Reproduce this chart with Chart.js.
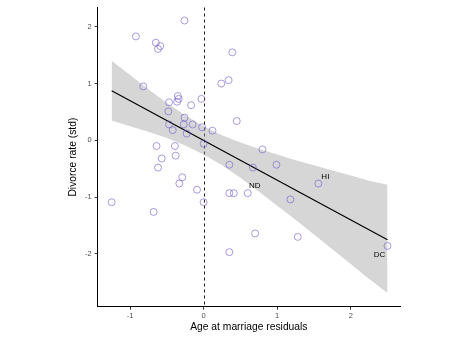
<!DOCTYPE html>
<html>
<head>
<meta charset="utf-8">
<title>Divorce rate vs age at marriage residuals</title>
<script src="https://cdn.jsdelivr.net/npm/chart.js@4"></script>
<style>
  body { margin: 0; background: #fff; }
  canvas { display: block; }
</style>
</head>
<body>
<canvas id="chart" width="474" height="338"></canvas>
<script>
// age at marriage residuals (x) and standardised divorce rate (y), one per state
const ageResid = [
  -0.92, -0.26, -0.65, -0.59, -0.62, 0.39, -0.82, 0.24, 0.34, -0.35,
  -0.34, -0.36, -0.47, -0.03, -0.17, -0.48, 0.45, -0.26, -0.47, -0.42,
  -0.27, -0.15, -0.23, -0.02, 0.12, 0.00, -0.64, -0.39, 0.80, -0.57,
  -0.38, -0.62, -0.29, -0.33, -0.09, -1.25, -0.68, 0.00, 0.35, 0.35,
  0.41, 0.35, 0.67, 0.99, 1.56, 0.60, 1.18, 0.70, 1.28, 2.50
];
const divorceStd = [
  1.83, 2.11, 1.72, 1.66, 1.61, 1.55, 0.95, 1.00, 1.06, 0.78,
  0.73, 0.68, 0.67, 0.73, 0.62, 0.51, 0.34, 0.40, 0.28, 0.18,
  0.28, 0.28, 0.12, 0.23, 0.17, -0.06, -0.10, -0.10, -0.16, -0.32,
  -0.27, -0.48, -0.65, -0.76, -0.87, -1.09, -1.26, -1.09, -0.43, -0.93,
  -0.93, -1.97, -0.48, -0.43, -0.76, -0.93, -1.04, -1.64, -1.70, -1.86
];

// labelled states and which point each belongs to
const labelNames = ['ND', 'HI', 'DC'];
const labelIndex = [45, 44, 49];

// fitted line and its confidence band
const fitX = [-1.25, 2.5];
const fitY = [0.875, -1.75];
const bandX = [-1.25, -1.0, -0.75, -0.5, -0.25, 0, 0.25, 0.5, 0.75, 1.0, 1.25, 1.5, 1.75, 2.0, 2.25, 2.5];
const bandUpper = [1.40, 1.15, 0.90, 0.66, 0.44, 0.25, 0.09, -0.04, -0.15, -0.25, -0.35, -0.44, -0.53, -0.62, -0.71, -0.78];
const bandLower = [0.35, 0.25, 0.15, 0.04, -0.09, -0.25, -0.44, -0.66, -0.90, -1.15, -1.40, -1.66, -1.92, -2.18, -2.44, -2.69];

const xTicks = [-1, 0, 1, 2];
const yTicks = [-2, -1, 0, 1, 2];

const pts = ageResid.map((x, i) => ({ x: x, y: divorceStd[i] }));
const zip = (xs, ys) => xs.map((x, i) => ({ x: x, y: ys[i] }));

const FONT = '"Liberation Sans", Arial, sans-serif';

// dashed reference line at x = 0
const zeroLine = {
  id: 'zeroLine',
  beforeDatasetsDraw(chart) {
    const { ctx, chartArea, scales } = chart;
    const px = Math.round(scales.x.getPixelForValue(0)) + 0.5;
    ctx.save();
    ctx.strokeStyle = '#000';
    ctx.lineWidth = 0.9;
    ctx.setLineDash([3, 3]);
    ctx.beginPath();
    ctx.moveTo(px, chartArea.top);
    ctx.lineTo(px, chartArea.bottom);
    ctx.stroke();
    ctx.restore();
  }
};

// state abbreviations next to their points
const stateLabels = {
  id: 'stateLabels',
  afterDatasetsDraw(chart) {
    const { ctx, scales } = chart;
    const offsets = { ND: [7, -7], HI: [7, -7], DC: [-8, 9] };
    ctx.save();
    ctx.font = '8px ' + FONT;
    ctx.fillStyle = '#000';
    ctx.textAlign = 'center';
    ctx.textBaseline = 'middle';
    labelNames.forEach((name, i) => {
      const p = pts[labelIndex[i]];
      const [dx, dy] = offsets[name];
      ctx.fillText(name, scales.x.getPixelForValue(p.x) + dx, scales.y.getPixelForValue(p.y) + dy);
    });
    ctx.restore();
  }
};

new Chart(document.getElementById('chart'), {
  type: 'scatter',
  data: {
    datasets: [
      {
        data: pts,
        order: 0,
        pointStyle: 'circle',
        pointRadius: 3.5,
        backgroundColor: 'rgba(0,0,0,0)',
        borderColor: 'rgba(106, 90, 205, 0.75)',
        borderWidth: 0.8
      },
      {
        type: 'line',
        data: zip(fitX, fitY),
        order: 1,
        borderColor: '#000',
        borderWidth: 1.2,
        pointRadius: 0,
        fill: false
      },
      {
        type: 'line',
        data: zip(bandX, bandLower),
        order: 3,
        borderWidth: 0,
        pointRadius: 0,
        fill: false
      },
      {
        type: 'line',
        data: zip(bandX, bandUpper),
        order: 2,
        borderWidth: 0,
        pointRadius: 0,
        fill: '-1',
        backgroundColor: 'rgba(153, 153, 153, 0.4)'
      }
    ]
  },
  options: {
    responsive: false,
    animation: false,
    layout: { padding: { left: 60, right: 74, top: 5, bottom: 0 } },
    plugins: {
      legend: { display: false },
      tooltip: { enabled: false }
    },
    scales: {
      x: {
        type: 'linear',
        min: -1.44,
        max: 2.67,
        afterFit: s => { s.height = 31.3; },
        afterBuildTicks: s => { s.ticks = xTicks.map(v => ({ value: v })); },
        grid: { drawOnChartArea: false, drawTicks: true, tickLength: 3, color: '#333' },
        border: { display: true, color: '#000', width: 1 },
        ticks: { color: '#4d4d4d', font: { family: FONT, size: 7.5 }, padding: 2 },
        title: {
          display: true,
          text: 'Age at marriage residuals',
          color: '#000',
          font: { family: FONT, size: 10.3 },
          padding: { top: 0, bottom: 5 }
        }
      },
      y: {
        type: 'linear',
        min: -2.93,
        max: 2.34,
        afterFit: s => { s.width = 37.7; },
        afterBuildTicks: s => { s.ticks = yTicks.map(v => ({ value: v })); },
        grid: { drawOnChartArea: false, drawTicks: true, tickLength: 3, color: '#333' },
        border: { display: true, color: '#000', width: 1 },
        ticks: { color: '#4d4d4d', font: { family: FONT, size: 7.5 }, padding: 3 },
        title: {
          display: true,
          text: 'Divorce rate (std)',
          color: '#000',
          font: { family: FONT, size: 10.3 },
          padding: { top: 7, bottom: 0 }
        }
      }
    }
  },
  plugins: [zeroLine, stateLabels]
});
</script>
</body>
</html>
